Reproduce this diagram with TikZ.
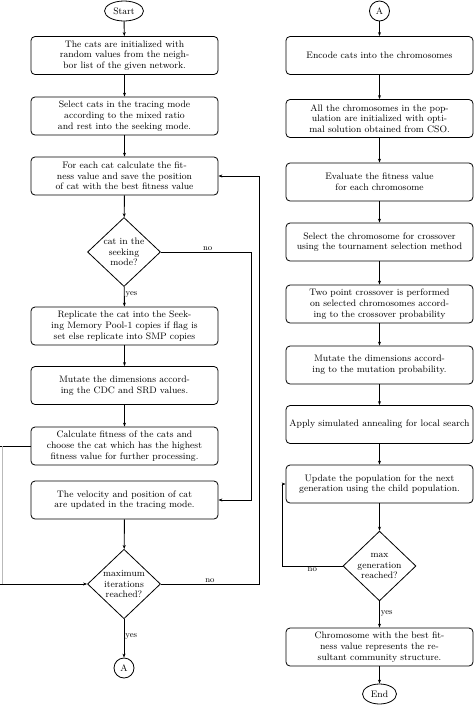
\documentclass[tikz,border=0pt]{standalone}
\usetikzlibrary{shapes.geometric,arrows.meta}
\begin{document}
\begin{tikzpicture}[x=1pt,y=-1pt,
  every node/.style={font=\fontsize{9.4}{10.7}\selectfont},
  box/.style={draw, rounded corners=4pt, line width=0.8pt, minimum width=187pt, minimum height=38pt, align=center, inner sep=0pt},
  dec/.style={draw, diamond, line width=0.8pt, minimum width=73pt, minimum height=69pt, align=center, inner sep=0pt},
  term/.style={draw, ellipse, line width=0.8pt, inner sep=0pt},
  conn/.style={draw, circle, line width=0.8pt, minimum size=20pt, inner sep=0pt},
  arr/.style={-{Stealth[length=4pt,width=3pt]}, line width=0.9pt},
  ln/.style={line width=0.9pt},
  lbl/.style={font=\fontsize{8.5}{10}\selectfont, inner sep=1pt}
]
\useasboundingbox (0,0) rectangle (474,705);
% left column
\node[term, minimum width=39pt, minimum height=20pt] (start) at (124,11) {Start};
\node[box] (b1) at (124.5,55.5) {The cats are initialized with\\random values from the neigh-\\bor list of the given network.};
\node[box] (b2) at (124.5,116) {Select cats in the tracing mode\\according to the mixed ratio\\and rest into the seeking mode.};
\node[box] (b3) at (124.5,176) {For each cat calculate the fit-\\ness value and save the position\\of cat with the best fitness value};
\node[dec] (d1) at (124,252) {cat in the\\seeking\\mode?};
\node[box] (b4) at (124.5,326) {Replicate the cat into the Seek-\\ing Memory Pool-1 copies if flag is\\set else replicate into SMP copies};
\node[box] (b5) at (124.5,385.5) {Mutate the dimensions accord-\\ing the CDC and SRD values.};
\node[box] (b6) at (124.5,446) {Calculate fitness of the cats and\\choose the cat which has the highest\\fitness value for further processing.};
\node[box] (b7) at (124.5,500) {The velocity and position of cat\\are updated in the tracing mode.};
\node[dec] (d2) at (124,584) {maximum\\iterations\\reached?};
\node[conn] (a1) at (124,668) {A};
% right column
\node[conn] (a2) at (379.5,11) {A};
\node[box] (r1) at (379.5,55.5) {Encode cats into the chromosomes};
\node[box] (r2) at (379.5,118.5) {All the chromosomes in the pop-\\ulation are initialized with opti-\\mal solution obtained from CSO.};
\node[box] (r3) at (379.5,182) {Evaluate the fitness value\\for each chromosome};
\node[box] (r4) at (379.5,242) {Select the chromosome for crossover\\using the tournament selection method};
\node[box] (r5) at (379.5,304) {Two point crossover is performed\\on selected chromosomes accord-\\ing to the crossover probability};
\node[box] (r6) at (379.5,365) {Mutate the dimensions accord-\\ing to the mutation probability.};
\node[box] (r7) at (379.5,424.5) {Apply simulated annealing for local search};
\node[box] (r8) at (379.5,484) {Update the population for the next\\generation using the child population.};
\node[dec] (dr) at (379.5,566) {max\\generation\\reached?};
\node[box] (r9) at (379.5,647) {Chromosome with the best fit-\\ness value represents the re-\\sultant community structure.};
\node[term, minimum width=34pt, minimum height=20pt] (end) at (379.5,694) {End};
% coordinates
\coordinate (c1) at (251,252);
\coordinate (c2) at (259,584);
\coordinate (c3) at (0,446);
\coordinate (c3a) at (2.5,446);
\coordinate (c3b) at (2.5,584);
\coordinate (c3c) at (0,584);
\coordinate (c4) at (282,566);
% left connectors
\draw[arr] (start) -- (b1);
\draw[arr] (b1) -- (b2);
\draw[arr] (b2) -- (b3);
\draw[arr] (b3) -- (d1);
\draw[arr] (d1) -- node[lbl, right, pos=0.4] {yes} (b4);
\draw[arr] (b4) -- (b5);
\draw[arr] (b5) -- (b6);
\draw[arr] (b7) -- (d2);
\draw[arr] (d2) -- node[lbl, right, pos=0.45] {yes} (a1);
\draw[arr] (d1.east) -- node[lbl, above, pos=0.52] {no} (c1) |- (b7.east);
\draw[arr] (d2.east) -- node[lbl, above, pos=0.5] {no} (c2) |- (b3.east);
\draw[ln] (b6.west) -- (c3);
\draw[ln, gray!55] (c3a) -- (c3b);
\draw[arr] (c3c) -- (d2.west);
% right connectors
\draw[arr] (a2) -- (r1);
\draw[arr] (r1) -- (r2);
\draw[arr] (r2) -- (r3);
\draw[arr] (r3) -- (r4);
\draw[arr] (r4) -- (r5);
\draw[arr] (r5) -- (r6);
\draw[arr] (r6) -- (r7);
\draw[arr] (r7) -- (r8);
\draw[arr] (r8) -- (dr);
\draw[arr] (dr) -- node[lbl, right, pos=0.45] {yes} (r9);
\draw[arr] (r9) -- (end);
\draw[arr] (dr.west) -- node[lbl, below, pos=0.5] {no} (c4) |- (r8.west);
\end{tikzpicture}
\end{document}
